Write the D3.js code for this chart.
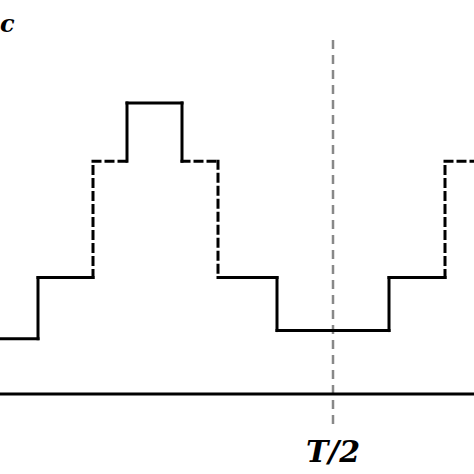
<!DOCTYPE html>
<html><head><meta charset="utf-8">
<script src="https://cdn.jsdelivr.net/npm/d3@7"></script>
<style>body{margin:0;background:#fff}</style>
</head><body><div id="chart"></div>
<script>
var svgWidth = 474, svgHeight = 474;

// step corners (time, level) and whether the edge leaving each corner is dashed
var stepT = [0, 0.38, 0.38, 0.93, 0.93, 1.27, 1.27, 1.82, 1.82, 2.18, 2.18, 2.77, 2.77, 3.89, 3.89, 4.45, 4.45, 4.74];
var stepV = [0.95, 0.95, 2, 2, 4, 4, 5, 5, 4, 4, 2, 2, 1.09, 1.09, 2, 2, 4, 4];
var dashed = [0, 0, 0, 1, 1, 0, 0, 0, 1, 1, 0, 0, 0, 0, 0, 1, 1];
var halfPeriod = 3.33;

var svg = d3.select("#chart").append("svg")
  .attr("width", svgWidth).attr("height", svgHeight);

var x = d3.scaleLinear().domain([0, 4.74]).range([0, 474]);
var y = d3.scaleLinear().domain([0, 5]).range([394, 103]);

// T/2 marker
svg.append("line")
  .attr("x1", x(halfPeriod)).attr("x2", x(halfPeriod))
  .attr("y1", 40).attr("y2", 425)
  .attr("stroke", "#888").attr("stroke-width", 2.5)
  .attr("stroke-dasharray", "9,6");

// time axis
svg.append("line")
  .attr("x1", 0).attr("x2", svgWidth)
  .attr("y1", y(0)).attr("y2", y(0))
  .attr("stroke", "#000").attr("stroke-width", 3);

var segs = d3.range(stepT.length - 1).map(function(i) {
  return {x1: stepT[i], y1: stepV[i], x2: stepT[i + 1], y2: stepV[i + 1], d: dashed[i]};
});

svg.selectAll("line.step").data(segs).enter().append("line")
  .attr("class", "step")
  .attr("x1", d => x(d.x1)).attr("y1", d => y(d.y1))
  .attr("x2", d => x(d.x2)).attr("y2", d => y(d.y2))
  .attr("stroke", "#000").attr("stroke-width", 3)
  .attr("stroke-linecap", "square")
  .attr("stroke-dasharray", d => d.d ? "7,6" : null);

svg.append("text")
  .attr("x", x(halfPeriod)).attr("y", 462)
  .attr("text-anchor", "middle")
  .style("font-family", "'DejaVu Serif', serif")
  .style("font-weight", "bold").style("font-style", "italic")
  .style("font-size", "30px")
  .text("T/2");

svg.append("text")
  .attr("x", 0).attr("y", 32)
  .style("font-family", "'DejaVu Serif', serif")
  .style("font-weight", "bold").style("font-style", "italic")
  .style("font-size", "24px")
  .text("c");
</script></body></html>
